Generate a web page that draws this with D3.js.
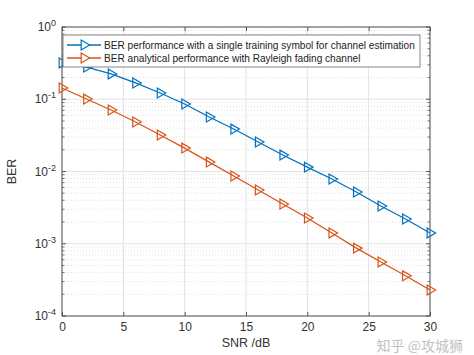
<!DOCTYPE html>
<html><head><meta charset="utf-8">
<script src="https://cdn.jsdelivr.net/npm/d3@7"></script>
<style>body{margin:0;background:#fff;}svg{display:block;}</style>
</head><body>
<svg id="c" width="474" height="355"></svg>
<script>
const snr = [0,2,4,6,8,10,12,14,16,18,20,22,24,26,28,30];
const berEst = [0.318,0.279,0.224,0.168,0.122,0.086,0.0568,0.0387,0.0256,0.0169,0.0115,0.00787,0.0052,0.00333,0.0022,0.00141];
const berRay = [0.143,0.1007,0.071,0.0484,0.032,0.0211,0.0135,0.00867,0.00555,0.00355,0.00227,0.00141,0.00087,0.00056,0.00036,0.000229];
const xTicks = [0,5,10,15,20,25,30];
const yExps = [0,-1,-2,-3,-4];
const legendLabels = ["BER performance with a single training symbol for channel estimation","BER analytical performance with Rayleigh fading channel"];
const colors = ["#0072BD","#D95319"];

const svg = d3.select("#c");
const L=62,R=430,T=27,B=316;
const x = d3.scaleLinear().domain([0,30]).range([L,R]);
const y = d3.scaleLog().domain([1e-4,1]).range([B,T]);
const font = "Liberation Sans, Arial, Helvetica, sans-serif";
const axisCol = "#555";

const g = svg.append("g");
for (let e=-4;e<0;e++){ for(let k=2;k<=9;k++){ const v=k*Math.pow(10,e);
  g.append("line").attr("x1",L).attr("x2",R).attr("y1",y(v)).attr("y2",y(v))
   .attr("stroke","#d8d8d8").attr("stroke-width",0.8).attr("stroke-dasharray","1,2");}}
xTicks.forEach(t=>g.append("line").attr("x1",x(t)).attr("x2",x(t)).attr("y1",T).attr("y2",B).attr("stroke","#e3e3e3").attr("stroke-width",1));
yExps.forEach(e=>g.append("line").attr("x1",L).attr("x2",R).attr("y1",y(Math.pow(10,e))).attr("y2",y(Math.pow(10,e))).attr("stroke","#e3e3e3").attr("stroke-width",1));

const xa = d3.axisBottom(x).tickValues(xTicks).tickSize(-4).tickPadding(6).tickFormat(d3.format("d"));
const gx = svg.append("g").attr("transform",`translate(0,${B})`).call(xa);
gx.select(".domain").remove();
gx.selectAll("line").attr("stroke",axisCol);
gx.selectAll("text").attr("font-family",font).attr("font-size",12).attr("fill","#333");
const gxt = svg.append("g").attr("transform",`translate(0,${T})`).call(d3.axisTop(x).tickValues(xTicks).tickSize(-4).tickFormat(""));
gxt.select(".domain").remove(); gxt.selectAll("line").attr("stroke",axisCol);

const minorVals=[]; for(let e=-4;e<0;e++) for(let k=2;k<=9;k++) minorVals.push(k*Math.pow(10,e));
[[L,1],[R,-1]].forEach(([px,dir])=>{
  yExps.forEach(e=>svg.append("line").attr("x1",px).attr("x2",px+dir*4).attr("y1",y(Math.pow(10,e))).attr("y2",y(Math.pow(10,e))).attr("stroke",axisCol));
  minorVals.forEach(v=>svg.append("line").attr("x1",px).attr("x2",px+dir*2.5).attr("y1",y(v)).attr("y2",y(v)).attr("stroke",axisCol).attr("stroke-width",0.8));
});
yExps.forEach(e=>{
  const t = svg.append("text").attr("x",L-6).attr("y",y(Math.pow(10,e))+4).attr("text-anchor","end")
    .attr("font-family",font).attr("font-size",12).attr("fill","#333");
  t.append("tspan").text("10");
  t.append("tspan").attr("dy",-5).attr("font-size",9).text(String(e));
});
svg.append("rect").attr("x",L).attr("y",T).attr("width",R-L).attr("height",B-T).attr("fill","none").attr("stroke",axisCol).attr("stroke-width",1);

const tri = d3.symbol().type(d3.symbolTriangle).size(42);
function series(data,col){
  const line = d3.line().x((d,i)=>x(snr[i])).y(d=>y(d));
  svg.append("path").datum(data).attr("d",line).attr("fill","none").attr("stroke",col).attr("stroke-width",1.3);
  svg.append("g").selectAll("path").data(data).join("path")
    .attr("d",tri).attr("transform",(d,i)=>`translate(${x(snr[i])},${y(d)}) rotate(90)`)
    .attr("fill","none").attr("stroke",col).attr("stroke-width",1.2);
}
series(berEst,colors[0]);
series(berRay,colors[1]);

svg.append("text").attr("x",(L+R)/2).attr("y",347).attr("text-anchor","middle").attr("font-family",font).attr("font-size",12.5).attr("fill","#333").text("SNR /dB");
svg.append("text").attr("transform",`translate(16,${(T+B)/2}) rotate(-90)`).attr("text-anchor","middle").attr("font-family",font).attr("font-size",12.5).attr("fill","#333").text("BER");

const lg = svg.append("g");
lg.append("rect").attr("x",63).attr("y",35).attr("width",357).attr("height",32).attr("fill","#fff").attr("stroke","#666").attr("stroke-width",0.8);
legendLabels.forEach((lab,i)=>{
  const yy = 45+i*13;
  lg.append("line").attr("x1",67).attr("x2",101).attr("y1",yy).attr("y2",yy).attr("stroke",colors[i]).attr("stroke-width",1.3);
  lg.append("path").attr("d",tri).attr("transform",`translate(84,${yy}) rotate(90)`).attr("fill","#fff").attr("stroke",colors[i]).attr("stroke-width",1.2);
  lg.append("text").attr("x",104).attr("y",yy+4).attr("font-family",font).attr("font-size",10.1).attr("fill","#222").text(lab);
});

svg.append("text").attr("x",463).attr("y",351).attr("text-anchor","end").attr("font-family","Noto Sans CJK SC, sans-serif").attr("font-size",14).attr("fill","#bbb").attr("opacity",0.9).text("知乎 @攻城狮");
</script>
</body></html>
